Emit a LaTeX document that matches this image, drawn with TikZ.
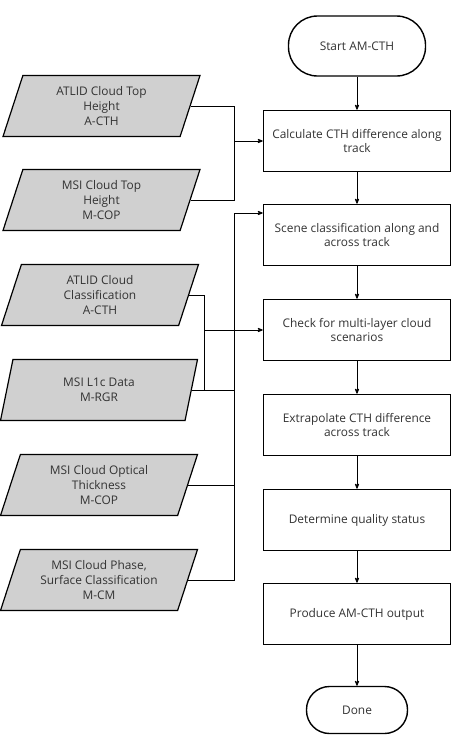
\documentclass[tikz,border=0pt]{standalone}
\usepackage{fontspec}
\setmainfont{Open Sans}
\usepackage{xcolor}
\usetikzlibrary{arrows,shapes.geometric}

\definecolor{txtgray}{HTML}{333333}
\definecolor{datagray}{HTML}{D0D0D0}

\tikzset{
  every node/.style={font=\fontsize{11.9}{14.8}\selectfont, text=txtgray, align=center},
  proc/.style={draw, line width=1.6pt, minimum width=187pt, minimum height=61pt},
  term/.style={draw, line width=1.4pt, rounded corners=29pt, minimum width=137pt, minimum height=60pt},
  data/.style={trapezium, trapezium left angle=64, trapezium right angle=116,
    trapezium stretches body, draw, fill=datagray, line width=1.2pt,
    minimum width=197pt, minimum height=61pt, inner xsep=1pt, inner ysep=1pt},
  flow/.style={->, >=stealth', line width=0.8pt},
  wire/.style={line width=0.8pt}
}

\begin{document}
\begin{tikzpicture}[x=1pt, y=-1pt]
\useasboundingbox (0,0) rectangle (466,748);

% main flow
\node[term]  (start)   at (357,46)  {Start AM-CTH};
\node[proc]  (calc)    at (357,141) {Calculate CTH difference along\\track};
\node[proc]  (scene)   at (357,235) {Scene classification along and\\across track};
\node[proc]  (check)   at (357,330) {Check for multi-layer cloud\\scenarios};
\node[proc]  (extra)   at (357,425) {Extrapolate CTH difference\\across track};
\node[proc]  (quality) at (357,520) {Determine quality status};
\node[proc]  (produce) at (357,614) {Produce AM-CTH output};
\node[term, rounded corners=23pt, minimum width=101pt, minimum height=47pt]
             (done)    at (357,710) {Done};

% input data
\node[data]  (acth)  at (101.5,106) {ATLID Cloud Top\\Height\\A-CTH};
\node[data]  (mcop)  at (101.5,200) {MSI Cloud Top\\Height\\M-COP};
\node[data]  (aclass) at (100,295)  {ATLID Cloud\\Classification\\A-CTH};
\node[data]  (mrgr)  at (99,390)    {MSI L1c Data\\M-RGR};
\node[data]  (mcot)  at (99,485)    {MSI Cloud Optical\\Thickness\\M-COP};
\node[data]  (mcm)   at (99,580)    {MSI Cloud Phase,\\Surface Classification\\M-CM};

\coordinate (j1) at (234,141);
\coordinate (j2) at (234,213);
\coordinate (j3) at (204,330);

\path[flow]
  (start)   edge (calc)
  (calc)    edge (scene)
  (scene)   edge (check)
  (check)   edge (extra)
  (extra)   edge (quality)
  (quality) edge (produce)
  (produce) edge (done);

\draw[wire] (acth.east) -| (j1);
\draw[wire] (mcop.east) -| (j1);
\draw[flow] (j1) -- (calc.west);

\draw[wire] (mcm.east) -| (j2);
\draw[wire] (mcot.east) -- (mcot.east -| j2);
\draw[wire] (mrgr.east) -- (mrgr.east -| j2);
\draw[flow] (j2) -- (j2 -| scene.west);

\draw[wire] (aclass.east) -| (j3);
\draw[wire] (mrgr.east -| j3) -- (j3);
\draw[flow] (j3) -- (check.west);
\end{tikzpicture}
\end{document}
